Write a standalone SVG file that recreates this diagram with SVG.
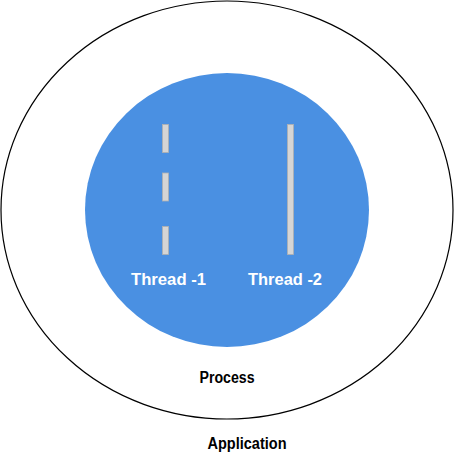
<svg xmlns="http://www.w3.org/2000/svg" width="454" height="454" viewBox="0 0 454 454">
<style>
.lbl{font-family:"Comic Sans MS","Liberation Sans",Arial,sans-serif;font-weight:bold;text-anchor:middle}
.w{fill:#ffffff;font-size:16px}
.b{fill:#000000;font-size:16px}
.bar{fill:#d5d5d5;stroke:#b0b0b0;stroke-width:0.8}
</style>
<rect width="454" height="454" fill="#ffffff"/>
<g id="application">
<ellipse cx="227" cy="210" rx="226" ry="209" fill="#ffffff" stroke="#000000" stroke-width="1.2"/>
<text class="lbl b" x="247" y="449" textLength="79" lengthAdjust="spacingAndGlyphs">Application</text>
</g>
<g id="process">
<ellipse cx="227" cy="210" rx="142" ry="137" fill="#4a90e2"/>
<text class="lbl b" x="227" y="383" textLength="55" lengthAdjust="spacingAndGlyphs">Process</text>
</g>
<g id="thread1">
<rect class="bar" x="162.5" y="124.5" width="6" height="28"/>
<rect class="bar" x="162.5" y="173" width="6" height="28"/>
<rect class="bar" x="162.5" y="226.5" width="6" height="28"/>
<text class="lbl w" x="168.5" y="285" textLength="75" lengthAdjust="spacingAndGlyphs">Thread -1</text>
</g>
<g id="thread2">
<rect class="bar" x="287.5" y="124.5" width="6" height="130"/>
<text class="lbl w" x="285" y="285" textLength="74" lengthAdjust="spacingAndGlyphs">Thread -2</text>
</g>
<g id="connectors"></g>
</svg>
